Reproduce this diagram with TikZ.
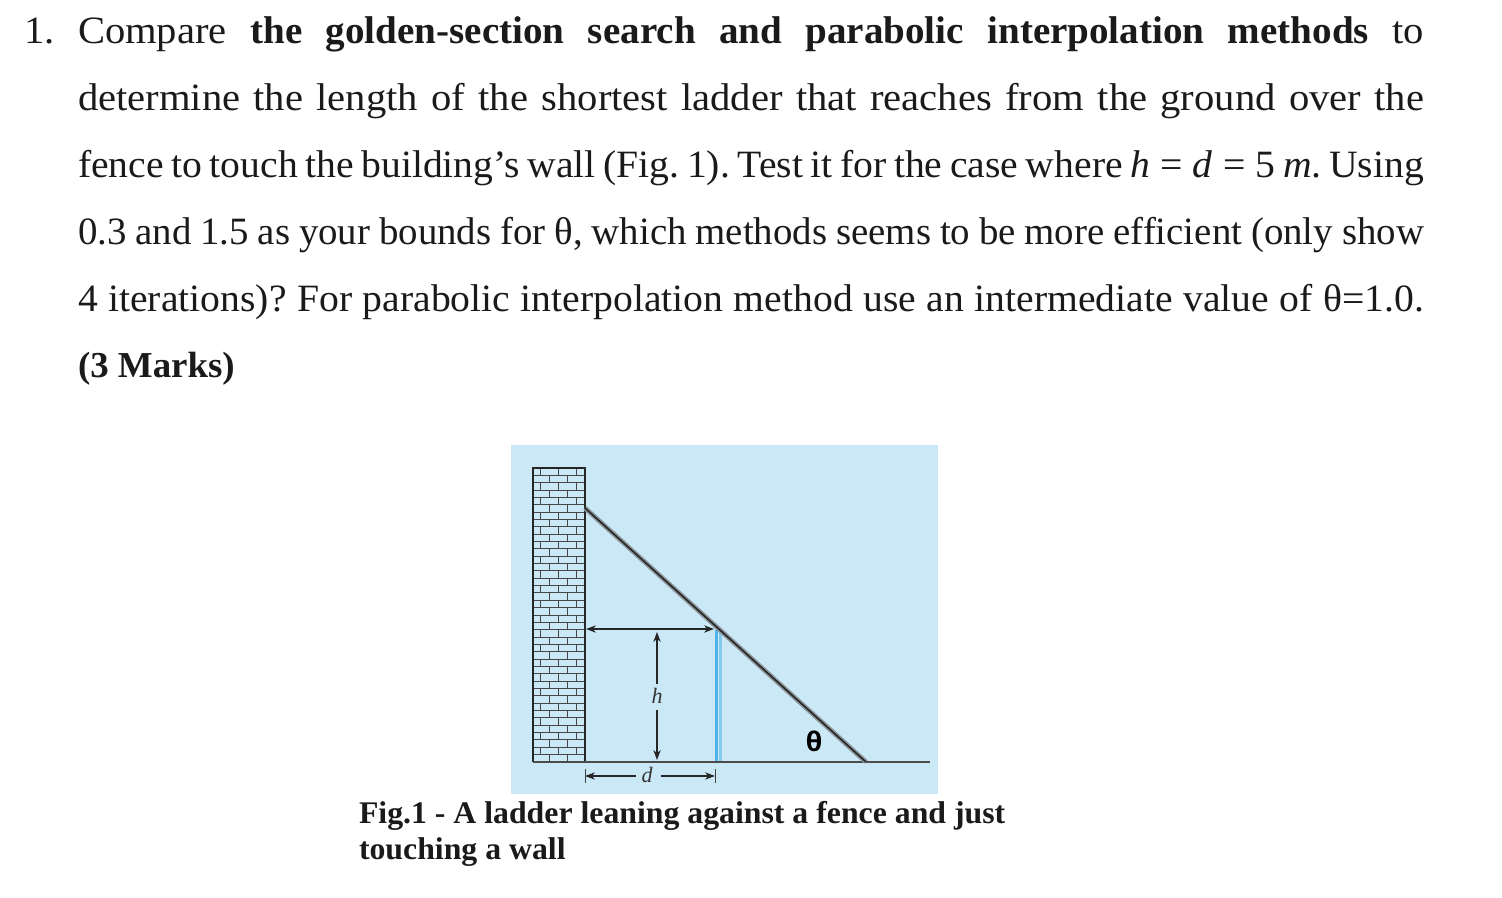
\documentclass[tikz,border=0pt]{standalone}
\usepackage{fontspec}
\setmainfont[FakeStretch=1.05,BoldFeatures={FakeStretch=1.01},ItalicFeatures={FakeStretch=1.05}]{Liberation Serif}
\newfontfamily\snugfont[FakeStretch=1.025]{Liberation Serif}
\newfontfamily\tightfont[FakeStretch=1.005]{Liberation Serif}
\newfontfamily\labelsans{Open Sans}
\newfontfamily\dimfont{Liberation Serif}
\usetikzlibrary{arrows.meta}
\definecolor{panel}{HTML}{CBE8F7}
\definecolor{fenceblue}{HTML}{4FB3E8}
\definecolor{bodyink}{HTML}{1A1A1A}
\definecolor{rung}{HTML}{8C959A}
\newlength{\unitpx}\setlength{\unitpx}{0.75pt}
\newcommand{\justline}[1]{\frenchspacing\spaceskip=4pt plus 1fil minus 1pt\relax\makebox[1346\unitpx][s]{#1}}
\tikzset{
  x=0.75pt,y=-0.75pt,
  bodyline/.style={anchor=base west,inner sep=0,outer sep=0,text=bodyink,font=\fontsize{29pt}{30pt}\selectfont},
  captionline/.style={anchor=base west,inner sep=0,outer sep=0,text=bodyink,font=\fontsize{23.6pt}{26pt}\selectfont\bfseries},
  dim/.style={draw=black!85,line width=0.8pt,-{Stealth[length=7.5pt,width=5.5pt]}},
  tick/.style={draw=black!75,line width=0.7pt},
  brickline/.style={draw=black!72,line width=0.7pt},
  walledge/.style={draw=black!85,line width=1.5pt},
  dimlabel/.style={inner sep=0,text=black!80,font=\dimfont\fontsize{16.5pt}{18pt}\selectfont\itshape},
}
\begin{document}
\begin{tikzpicture}
\useasboundingbox (0,0) rectangle (1502,898);
\fill[white] (0,0) rectangle (1502,898);
\node[bodyline] (num) at (24,44) {1.};
\node[bodyline] (l1) at (78,44) {\justline{Compare \textbf{the} \textbf{golden-section} \textbf{search} \textbf{and} \textbf{parabolic} \textbf{interpolation} \textbf{methods} to}};
\node[bodyline] (l2) at (78,111) {\justline{determine the length of the shortest ladder that reaches from the ground over the}};
\node[bodyline] (l3) at (78,178) {\snugfont\justline{fence to touch the building’s wall (Fig. 1). Test it for the case where \textit{h}\kern2pt{} =\kern2pt{} \textit{d}\kern2pt{} =\kern2pt{} 5 \textit{m}. Using}};
\node[bodyline] (l4) at (78,245) {\tightfont\justline{0.3 and 1.5 as your bounds for θ, which methods seems to be more efficient (only show}};
\node[bodyline] (l5) at (78,312) {\snugfont\justline{4 iterations)? For parabolic interpolation method use an intermediate value of θ=1.0.}};
\node[bodyline,font=\fontsize{27.4pt}{30pt}\selectfont\bfseries] (l6) at (78,378) {(3 Marks)};
\fill[panel] (511,445) rectangle (938,794);
% brick wall
\foreach \r in {0,...,39}{
  \pgfmathsetmacro{\ya}{468+\r*7.35}
  \pgfmathsetmacro{\yb}{\ya+7.35}
  \draw[brickline] (533,\ya) -- (585,\ya);
  \pgfmathtruncatemacro{\odd}{mod(\r,2)}
  \ifnum\odd=0
    \foreach \vx in {540.7,558.3,576}{\draw[brickline] (\vx,\ya) -- (\vx,\yb);}
  \else
    \foreach \vx in {549.3,567}{\draw[brickline] (\vx,\ya) -- (\vx,\yb);}
  \fi
}
\draw[walledge] (533,762) -- (533,468) -- (585,468) -- (585,762);
% fence
\fill[fenceblue] (714.5,630) rectangle (717.5,762);
\fill[fenceblue!70] (719,630) rectangle (721.5,762);
% named points
\coordinate (ladTop) at (585,508);
\coordinate (ladFoot) at (866,762);
\coordinate (gndL) at (533,762);
\coordinate (gndR) at (930,762);
\coordinate (wdL) at (586,629);
\coordinate (wdR) at (714,629);
\coordinate (hTop) at (657,632);
\coordinate (hBot) at (657,760);
\coordinate (dL) at (585,776);
\coordinate (dR) at (715,776);
% ground and ladder
\draw[draw=black!70,line width=0.9pt] (gndL) -- (gndR);
\draw[draw=rung,line width=3.6pt] (ladTop) -- (ladFoot);
\draw[draw=black!85,line width=1.2pt] (ladTop) -- (ladFoot);
% dimensions
\draw[dim,{Stealth[length=7.5pt,width=5.5pt]}-{Stealth[length=7.5pt,width=5.5pt]}] (wdL) -- (wdR);
\node[dimlabel] (hlab) at (657,696) {h};
\node[dimlabel] (dlab) at (647,775) {d};
\draw[dim] (hlab.north) ++(0,-4) -- (hTop);
\draw[dim] (hlab.south) ++(0,6) -- (hBot);
\draw[dim] (dlab.west) ++(-5,1) -- (dL);
\draw[dim] (dlab.east) ++(8,1) -- (dR);
\draw[tick] (585,769) -- (585,783);
\draw[tick] (715,769) -- (715,783);
\node[inner sep=0,font=\labelsans\fontsize{20pt}{20pt}\selectfont\bfseries] (theta) at (814,741) {θ};
% caption
\node[captionline] (c1) at (359,823) {Fig.1 - A ladder leaning against a fence and just};
\node[captionline] (c2) at (359,859) {touching a wall};
\end{tikzpicture}
\end{document}
